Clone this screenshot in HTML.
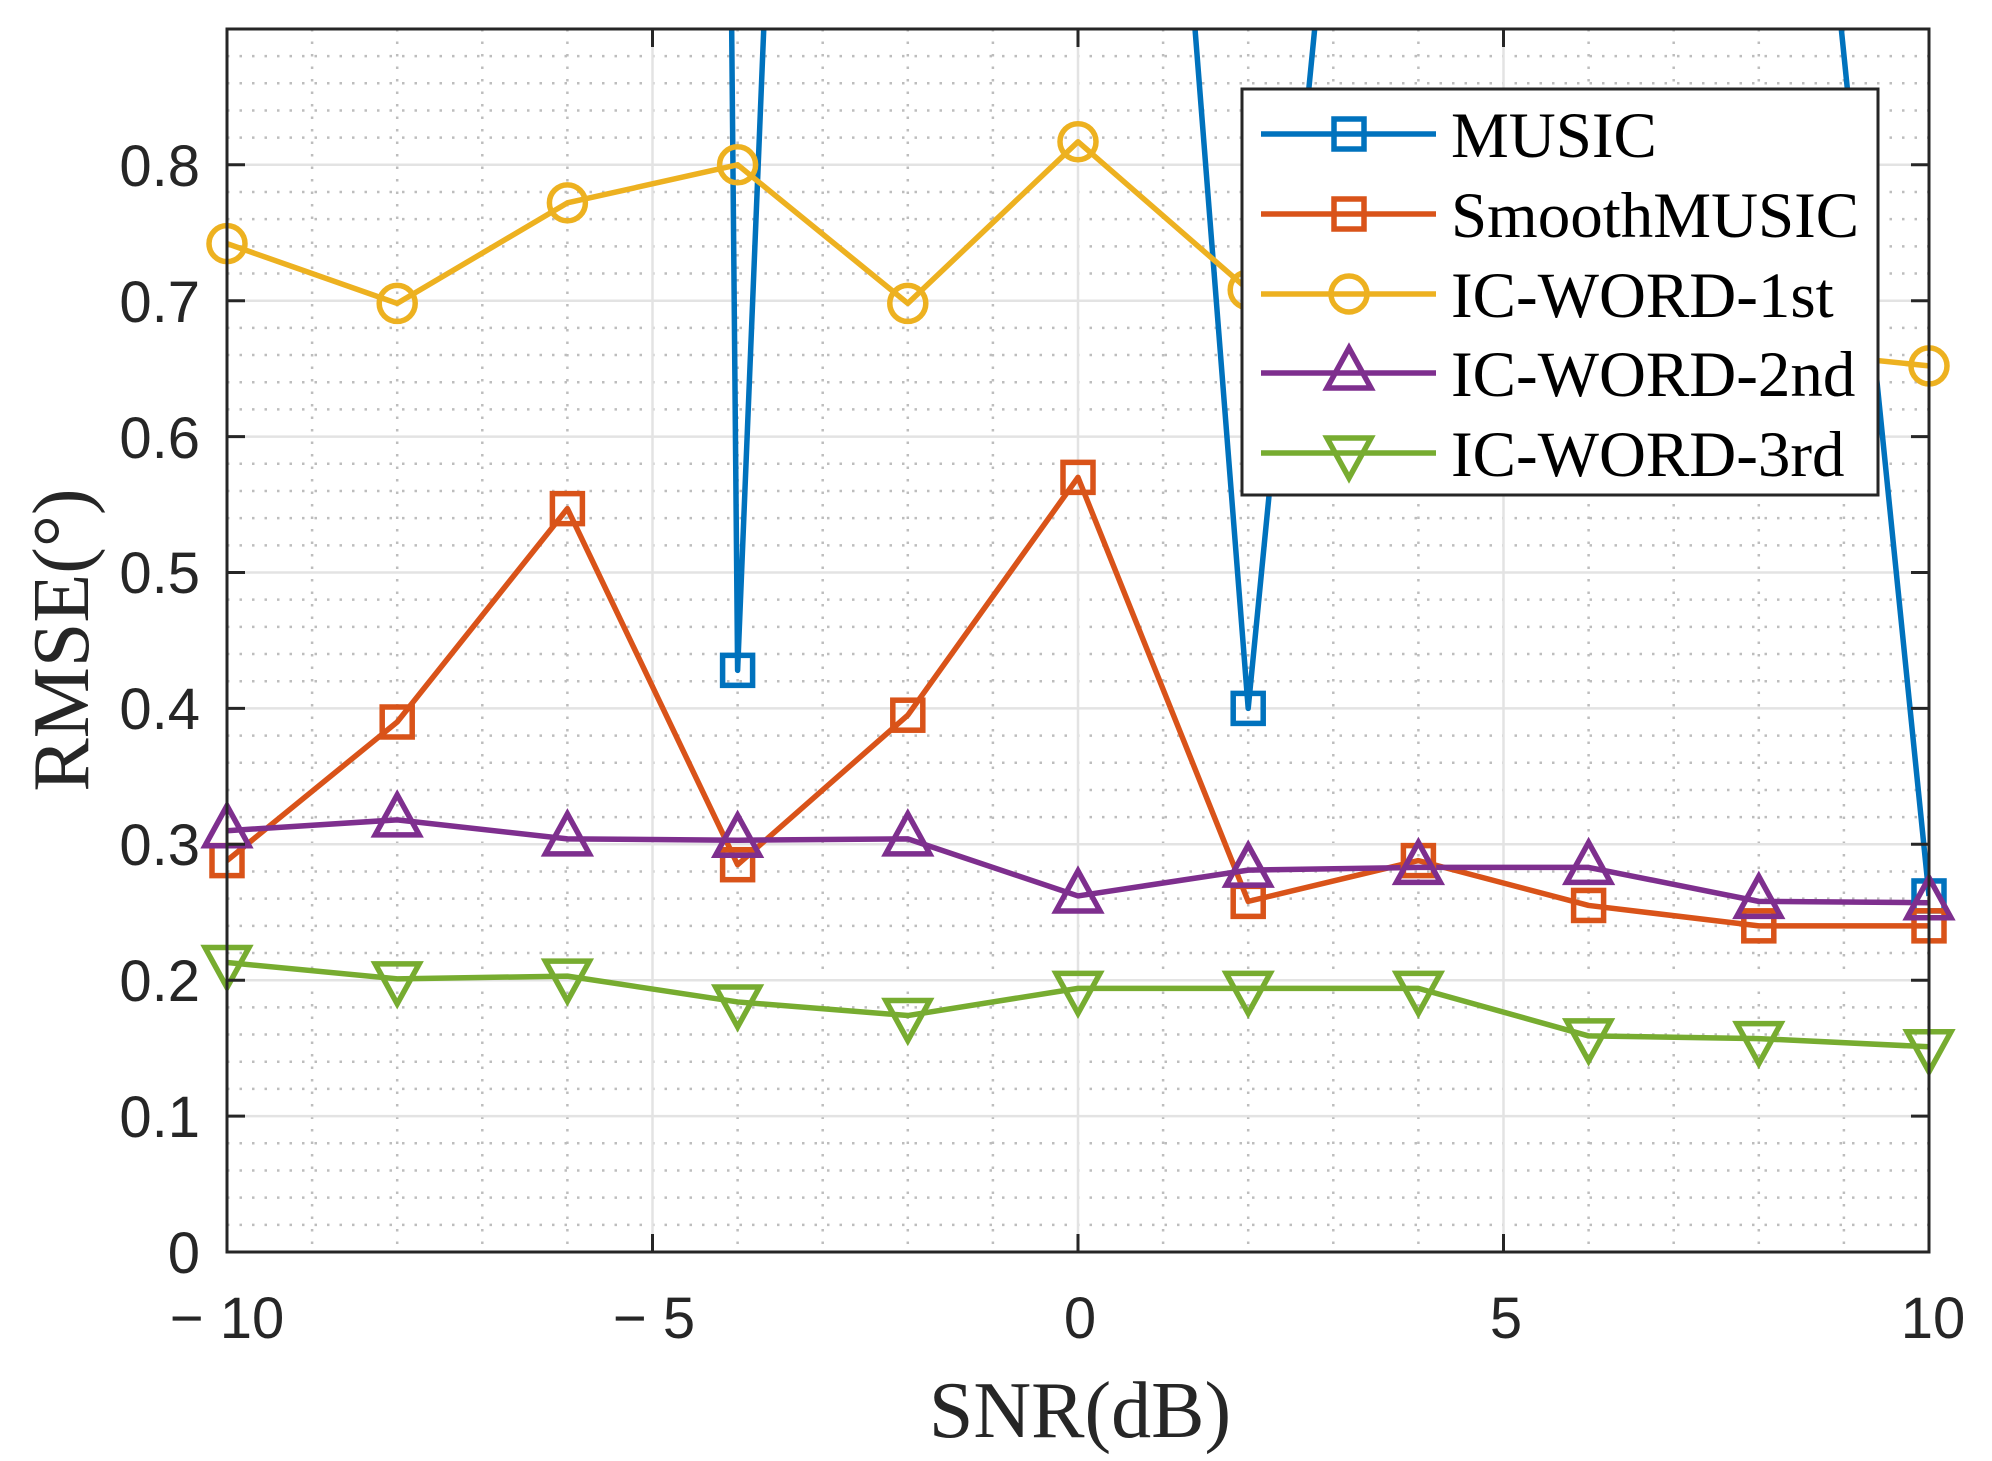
<!DOCTYPE html>
<html><head><meta charset="utf-8"><style>
html,body{margin:0;padding:0;background:#fff;}
svg{display:block;}
.tk{font-family:"Liberation Sans",sans-serif;font-size:58px;fill:#262626;}
.lab{font-family:"Liberation Serif",serif;font-size:80px;fill:#262626;}
.lg{font-family:"Liberation Serif",serif;font-size:65px;fill:#000;}
</style></head><body>
<svg id="s" width="1992" height="1461" viewBox="0 0 1992 1461" xmlns="http://www.w3.org/2000/svg">
<rect width="1992" height="1461" fill="#fff"/>
<g id="grid"></g>
<defs><clipPath id="cp"><rect x="227" y="29" width="1702" height="1223"/></clipPath></defs>
<g id="series" clip-path="url(#cp)"></g>
<g id="marks"></g>
<rect x="227" y="29" width="1702" height="1223" fill="none" stroke="#262626" stroke-width="3"/>
<g id="ticks" stroke="#262626" stroke-width="3"></g>
<g class="tk" text-anchor="end">
<text x="200" y="1273">0</text>
<text x="200" y="1137">0.1</text>
<text x="200" y="1001">0.2</text>
<text x="200" y="865">0.3</text>
<text x="200" y="729">0.4</text>
<text x="200" y="593">0.5</text>
<text x="200" y="458">0.6</text>
<text x="200" y="322">0.7</text>
<text x="200" y="186">0.8</text>
</g>
<g class="tk" text-anchor="middle">
<text x="227" y="1338">− 10</text>
<text x="654" y="1338">− 5</text>
<text x="1080" y="1338">0</text>
<text x="1506" y="1338">5</text>
<text x="1933" y="1338">10</text>
</g>
<text class="lab" x="1080" y="1437" text-anchor="middle">SNR(dB)</text>
<text class="lab" x="0" y="0" text-anchor="middle" transform="translate(88,640) rotate(-90)">RMSE(°)</text>
<g transform="translate(-7,0)">
<rect x="1249" y="89" width="636" height="406" fill="#fff" stroke="#262626" stroke-width="3"/>
<g id="leg"></g>
<g class="lg">
<text x="1458" y="157">MUSIC</text>
<text x="1458" y="237">SmoothMUSIC</text>
<text x="1458" y="317">IC-WORD-1st</text>
<text x="1458" y="396">IC-WORD-2nd</text>
<text x="1458" y="476">IC-WORD-3rd</text>
</g>
</g>
</svg>
<script>
var NS="http://www.w3.org/2000/svg";
function X(d){return 227+(d+10)*85.1;}
function Y(v){return 1252-v*1359;}
function el(p,t,a){var e=document.createElementNS(NS,t);for(var k in a)e.setAttribute(k,a[k]);p.appendChild(e);return e;}
var g=document.getElementById('grid');
for(var d=-9;d<10;d++){if(d%5==0)continue;el(g,'line',{x1:X(d),x2:X(d),y1:29,y2:1252,stroke:'#bdbdbd','stroke-width':2.5,'stroke-dasharray':'2.5 10'});}
for(var i=1;i<45;i++){if(i%5==0)continue;var y=Y(i*0.02);el(g,'line',{x1:227,x2:1929,y1:y,y2:y,stroke:'#bdbdbd','stroke-width':2.5,'stroke-dasharray':'2.5 10'});}
[-5,0,5].forEach(function(d){el(g,'line',{x1:X(d),x2:X(d),y1:29,y2:1252,stroke:'#e3e3e3','stroke-width':2.5});});
for(var i=1;i<9;i++){var y=Y(i*0.1);el(g,'line',{x1:227,x2:1929,y1:y,y2:y,stroke:'#e3e3e3','stroke-width':2.5});}
var t=document.getElementById('ticks');
for(var i=1;i<9;i++){var y=Y(i*0.1);el(t,'line',{x1:227,x2:245,y1:y,y2:y});el(t,'line',{x1:1911,x2:1929,y1:y,y2:y});}
[-5,0,5].forEach(function(d){el(t,'line',{x1:X(d),x2:X(d),y1:1252,y2:1234});el(t,'line',{x1:X(d),x2:X(d),y1:29,y2:47});});
var xs=[-10,-8,-6,-4,-2,0,2,4,6,8,10];
var S=[
 {c:'#0072BD',m:'sq',v:[5,8,14,0.428,3.5,2.0,0.40,1.68,3,1.5,0.262]},
 {c:'#D95319',m:'sq',v:[0.288,0.39,0.547,0.285,0.395,0.57,0.258,0.288,0.255,0.240,0.240]},
 {c:'#EDB120',m:'ci',v:[0.742,0.698,0.772,0.80,0.698,0.817,0.708,0.72,0.68,0.665,0.652]},
 {c:'#7E2F8E',m:'tu',v:[0.31,0.318,0.304,0.303,0.304,0.262,0.281,0.283,0.283,0.258,0.257]},
 {c:'#77AC30',m:'td',v:[0.213,0.201,0.203,0.184,0.174,0.194,0.194,0.194,0.159,0.157,0.151]}
];
var sg=document.getElementById('series'),mg=document.getElementById('marks');
function marker(p,m,x,y,c){
 var a={fill:'none',stroke:c,'stroke-width':5.5};
 if(m=='sq'){a.x=x-15;a.y=y-15;a.width=30;a.height=30;el(p,'rect',a);}
 else if(m=='ci'){a.cx=x;a.cy=y;a.r=18;el(p,'circle',a);}
 else if(m=='tu'){a.points=(x)+','+(y-25)+' '+(x-22)+','+(y+15)+' '+(x+22)+','+(y+15);el(p,'polygon',a);}
 else {a.points=(x)+','+(y+25)+' '+(x-22)+','+(y-15)+' '+(x+22)+','+(y-15);el(p,'polygon',a);}
}
S.forEach(function(s){
 var pts=xs.map(function(d,i){return X(d)+','+Y(s.v[i]);}).join(' ');
 el(sg,'polyline',{points:pts,fill:'none',stroke:s.c,'stroke-width':5.5,'stroke-linejoin':'round'});
 xs.forEach(function(d,i){if(s.v[i]<0.9)marker(mg,s.m,X(d),Y(s.v[i]),s.c);});
});
var lg=document.getElementById('leg');
var rows=[134,214,294,373,453];
S.forEach(function(s,i){el(lg,'line',{x1:1268,x2:1443,y1:rows[i],y2:rows[i],stroke:s.c,'stroke-width':5.5});marker(lg,s.m,1356,rows[i],s.c);});
</script>
</body></html>
